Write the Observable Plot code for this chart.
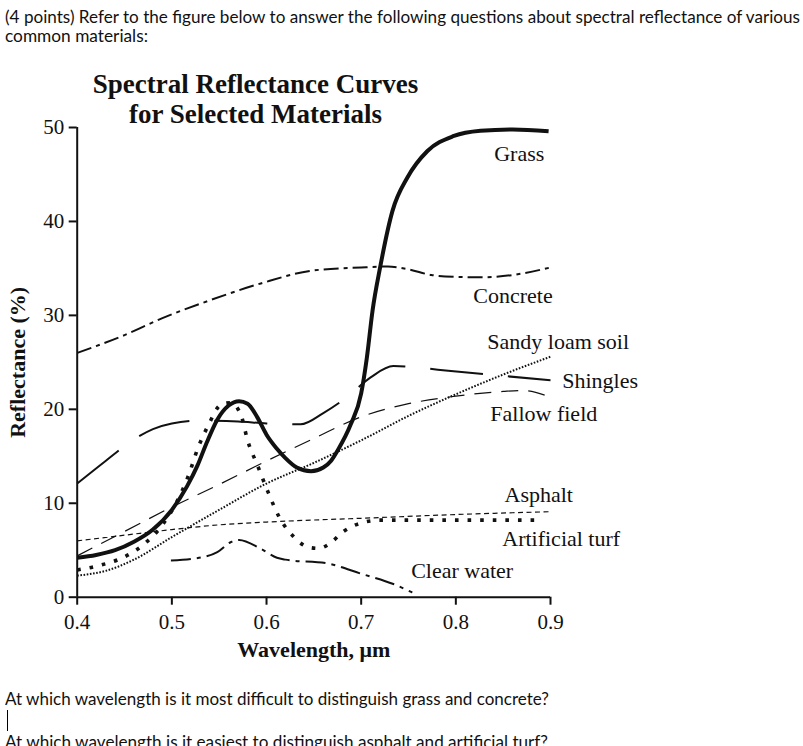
<!DOCTYPE html>
<html>
<head>
<meta charset="utf-8">
<script src="https://cdn.jsdelivr.net/npm/d3@7"></script>
<script src="https://cdn.jsdelivr.net/npm/@observablehq/plot@0.6"></script>
<style>
  html, body { margin: 0; padding: 0; background: #fff; }
  #page { position: relative; width: 803px; height: 746px; overflow: hidden; background: #fff; }
  .q { position: absolute; left: 5px; font-family: Lato, "Open Sans", sans-serif; font-size: 16.5px;
       line-height: 20px; color: #111; white-space: nowrap; transform-origin: 0 0; }
  #chart { position: absolute; left: 0; top: 60px; }
  #title { position: absolute; left: 0; width: 511px; top: 69px; text-align: center;
           font-family: "Liberation Serif", "Times New Roman", serif; font-weight: bold;
           font-size: 27px; line-height: 30px; color: #111; }
  #cursor { position: absolute; left: 7px; top: 710px; width: 1px; height: 21px; background: #000; }
</style>
</head>
<body>
<div id="page">
  <div class="q" id="q1" data-w="795" style="top:7px">(4 points) Refer to the figure below to answer the following questions about spectral reflectance of various</div>
  <div class="q" id="q2" data-w="143" style="top:26px">common materials:</div>
  <div id="chart"></div>
  <div id="title">Spectral Reflectance Curves<br>for Selected Materials</div>
  <div class="q" id="q3" data-w="544" style="top:689px">At which wavelength is it most difficult to distinguish grass and concrete?</div>
  <div id="cursor"></div>
  <div class="q" id="q4" data-w="543" style="top:732px">At which wavelength is it easiest to distinguish asphalt and artificial turf?</div>
</div>
<script>
// Wavelength (µm), reflectance (%) pairs
const grass = [[0.4,4.2],[0.42,4.5],[0.44,5.0],[0.46,5.9],[0.48,7.2],[0.5,9.3],[0.516,11.8],[0.527,14.0],[0.537,16.5],[0.548,18.9],[0.56,20.4],[0.571,20.85],[0.58,20.6],[0.59,19.2],[0.6,17.3],[0.611,15.8],[0.62,14.8],[0.632,13.8],[0.647,13.4],[0.66,13.8],[0.668,14.5],[0.675,15.6],[0.689,18.4],[0.7,21.7],[0.706,25.5],[0.712,30.5],[0.72,35.1],[0.733,41.1],[0.749,44.7],[0.77,47.5],[0.798,49.1],[0.826,49.65],[0.86,49.8],[0.898,49.6]];
const concrete = [[0.4,26.0],[0.45,27.9],[0.49,29.7],[0.54,31.6],[0.594,33.4],[0.647,34.75],[0.7,35.1],[0.728,35.2],[0.75,34.9],[0.774,34.3],[0.8,34.1],[0.827,34.05],[0.86,34.3],[0.9,35.1]];
const sandyLoam = [[0.4,2.3],[0.43,2.8],[0.46,4.0],[0.5,6.4],[0.55,9.3],[0.6,12.1],[0.65,14.3],[0.7,16.7],[0.75,19.3],[0.8,21.6],[0.85,23.7],[0.9,25.6]];
const shingles = [[0.4,12.1],[0.43,14.5],[0.46,16.8],[0.48,17.9],[0.5,18.5],[0.53,18.8],[0.57,18.7],[0.6,18.5],[0.636,18.4],[0.66,19.6],[0.685,21.3],[0.71,23.4],[0.734,24.6],[0.764,24.4],[0.792,24.1],[0.845,23.6],[0.9,23.1]];
const fallowField = [[0.4,4.4],[0.45,7.0],[0.5,9.6],[0.55,12.0],[0.6,14.5],[0.65,16.9],[0.7,19.2],[0.75,20.6],[0.8,21.4],[0.85,21.9],[0.87,22.0],[0.9,21.3]];
const asphalt = [[0.4,6.0],[0.45,6.6],[0.5,7.2],[0.55,7.7],[0.6,8.0],[0.7,8.4],[0.8,8.8],[0.9,9.1]];
const artificialTurf = [[0.4,2.9],[0.42,3.3],[0.45,4.3],[0.47,5.6],[0.49,7.7],[0.506,10.3],[0.517,12.8],[0.528,16.0],[0.538,18.2],[0.552,20.5],[0.562,20.7],[0.573,19.4],[0.58,16.7],[0.591,13.9],[0.602,11.1],[0.613,8.6],[0.629,6.4],[0.645,5.3],[0.655,5.2],[0.668,5.8],[0.68,6.9],[0.7,7.9],[0.72,8.2],[0.8,8.2],[0.89,8.2]];
const clearWater = [[0.499,3.9],[0.523,4.1],[0.548,4.8],[0.562,5.85],[0.571,6.1],[0.594,5.15],[0.611,4.2],[0.62,4.0],[0.664,3.6],[0.7,2.5],[0.734,1.4],[0.754,0.5]];

// Curve labels: name, wavelength, reflectance where the label sits
const labelNames = ["Grass","Concrete","Sandy loam soil","Shingles","Fallow field","Asphalt","Artificial turf","Clear water"];
const labelX = [0.867,0.8604,0.9081,0.9124,0.8929,0.8876,0.9113,0.8067];
const labelY = [46.46,31.28,26.43,22.28,18.72,10.11,5.43,2.06];

const xTicks = [0.4,0.5,0.6,0.7,0.8,0.9];
const yTicks = [0,10,20,30,40,50];

const toRows = arr => arr.map(([w, r]) => ({w, r}));
const labels = labelNames.map((name, i) => ({name, x: labelX[i], y: labelY[i]}));

const serif = '"Liberation Serif", "Times New Roman", serif';
const lineOpts = (extra) => Object.assign({x: "w", y: "r", curve: "monotone-x", stroke: "#111", strokeLinecap: "butt", strokeLinejoin: "round"}, extra);
const textOpts = (extra) => Object.assign({fontSize: 22, fontFamily: serif, fill: "#111"}, extra);

const chart = Plot.plot({
  width: 803,
  height: 610,
  marginTop: 67,
  marginBottom: 73.3,
  marginLeft: 76.7,
  marginRight: 253,
  x: {domain: [0.4, 0.9], label: null},
  y: {domain: [0, 50], label: null},
  style: {fontFamily: serif, background: "white", color: "#111", overflow: "visible"},
  marks: [
    Plot.line(toRows(asphalt), lineOpts({strokeWidth: 1.2, strokeDasharray: "5,3.5"})),
    Plot.line(toRows(fallowField), lineOpts({strokeWidth: 1.2, strokeDasharray: "17,10"})),
    Plot.line(toRows(sandyLoam), lineOpts({strokeWidth: 2, strokeDasharray: "1.6,1.6"})),
    Plot.line(toRows(clearWater), lineOpts({strokeWidth: 2, strokeDasharray: "20,6,4,6"})),
    Plot.line(toRows(concrete), lineOpts({strokeWidth: 2, strokeDasharray: "15,5,4,5"})),
    Plot.line(toRows(shingles), lineOpts({strokeWidth: 2, strokeDasharray: "53,25"})),
    Plot.line(toRows(artificialTurf), lineOpts({strokeWidth: 3.6, strokeDasharray: "3.6,9"})),
    Plot.line(toRows(grass), lineOpts({strokeWidth: 4})),
    Plot.ruleX([0.4], {y1: 0, y2: 50, stroke: "#111", strokeWidth: 2}),
    Plot.ruleY([0], {x1: 0.4, x2: 0.9, stroke: "#111", strokeWidth: 2}),
    Plot.axisX({ticks: xTicks, tickSize: 8, tickFormat: () => "", strokeWidth: 2, label: null}),
    Plot.axisY({ticks: yTicks, tickSize: 8, tickFormat: () => "", strokeWidth: 2, label: null}),
    Plot.text(xTicks, textOpts({x: d => d, y: 0, dy: 17, lineAnchor: "top", textAnchor: "middle", fontSize: 21, text: d => d.toFixed(1)})),
    Plot.text(yTicks, textOpts({x: 0.4, y: d => d, dx: -13, lineAnchor: "middle", textAnchor: "end", fontSize: 21, text: d => String(d)})),
    Plot.text(labels.filter(d => d.name !== "Shingles"), textOpts({x: "x", y: "y", text: "name", textAnchor: "middle", lineAnchor: "bottom"})),
    Plot.text(labels.filter(d => d.name === "Shingles"), textOpts({x: "x", y: "y", text: "name", textAnchor: "start", lineAnchor: "bottom"})),
    Plot.text(["Wavelength, μm"], textOpts({frameAnchor: "bottom", dy: 59.3, textAnchor: "middle", lineAnchor: "bottom", fontWeight: "bold"})),
    Plot.text(["Reflectance (%)"], textOpts({frameAnchor: "left", dx: -59.7, rotate: -90, textAnchor: "middle", lineAnchor: "middle", fontWeight: "bold"}))
  ]
});
document.getElementById("chart").appendChild(chart);

// Fit the question lines to the widths they have in the reference
document.querySelectorAll(".q").forEach(el => {
  const target = +el.dataset.w;
  const w = el.getBoundingClientRect().width;
  if (w > 0) el.style.transform = `scaleX(${target / w})`;
});
</script>
</body>
</html>
